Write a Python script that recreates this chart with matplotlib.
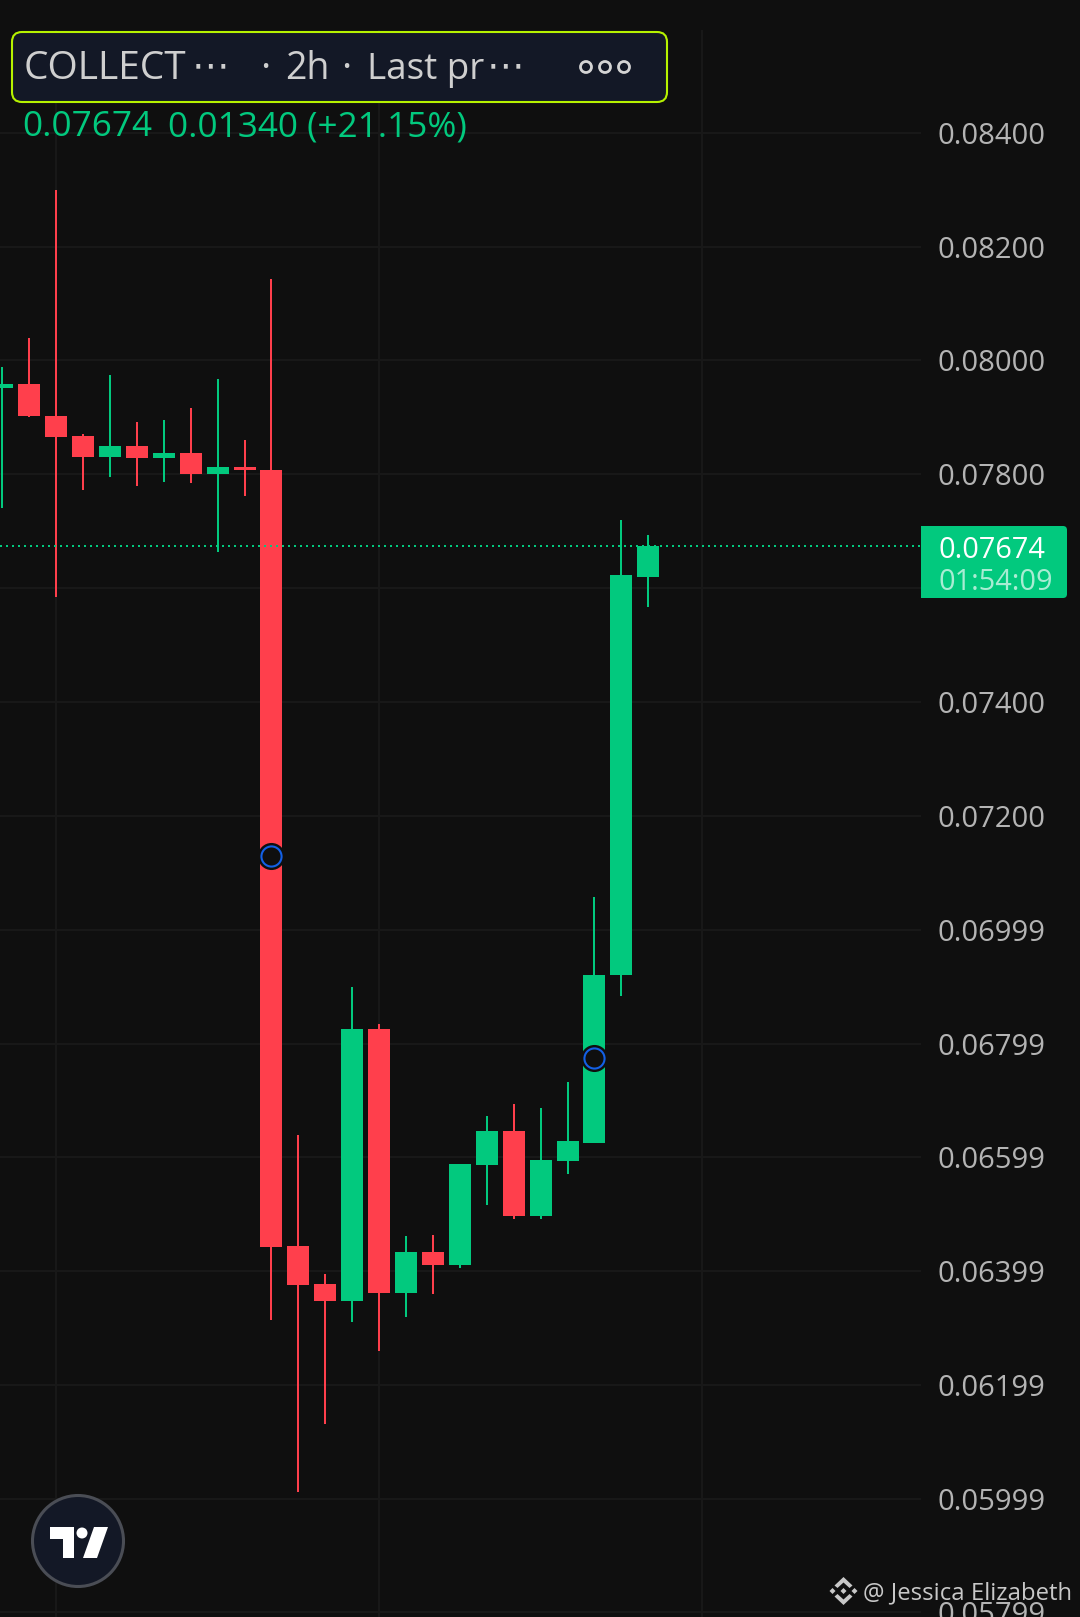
import matplotlib
matplotlib.use("Agg")
import matplotlib.pyplot as plt
from matplotlib.patches import Circle, FancyBboxPatch, Polygon
import numpy as np

plt.rcParams['font.family'] = ['Open Sans', 'DejaVu Sans']

# candles, oldest first
opens = [0.07951, 0.07958, 0.07903, 0.07868, 0.07831, 0.07849, 0.07829, 0.07838, 0.07801, 0.07812,
         0.07808, 0.06444, 0.06377, 0.06347, 0.06824, 0.06361, 0.06433, 0.06409, 0.06586, 0.06646,
         0.06496, 0.06593, 0.06625, 0.06919, 0.07620]
closes = [0.07958, 0.07902, 0.07866, 0.07831, 0.07849, 0.07829, 0.07838, 0.07801, 0.07812, 0.07807,
          0.06442, 0.06375, 0.06347, 0.06824, 0.06361, 0.06433, 0.06409, 0.06588, 0.06646, 0.06496,
          0.06595, 0.06627, 0.06920, 0.07622, 0.07674]
highs = [0.07989, 0.08039, 0.08299, 0.07870, 0.07975, 0.07891, 0.07896, 0.07916, 0.07968, 0.07861,
         0.08144, 0.06639, 0.06394, 0.06899, 0.06834, 0.06460, 0.06463, 0.06588, 0.06672, 0.06692,
         0.06685, 0.06732, 0.07057, 0.07719, 0.07694]
lows = [0.07740, 0.07900, 0.07585, 0.07773, 0.07796, 0.07780, 0.07787, 0.07784, 0.07664, 0.07761,
        0.06314, 0.06011, 0.06131, 0.06310, 0.06259, 0.06319, 0.06358, 0.06405, 0.06516, 0.06491,
        0.06491, 0.06570, 0.06625, 0.06882, 0.07567]

# blue rings sitting on two of the candles
marker_idx = [10, 22]
marker_price = [0.07128, 0.06773]

last_price = 0.07674

price_ticks = [0.08400, 0.08200, 0.08000, 0.07800, 0.07600, 0.07400, 0.07200, 0.06999,
               0.06799, 0.06599, 0.06399, 0.06199, 0.05999, 0.05799]
# 0.07600 sits behind the price tag
price_labels = ['0.08400', '0.08200', '0.08000', '0.07800', '', '0.07400', '0.07200', '0.06999',
                '0.06799', '0.06599', '0.06399', '0.06199', '0.05999', '0.05799']
time_ticks = [2, 14, 26]

BG = '#0f0f0f'
GRID = '#181818'
UP = '#02c97e'
DOWN = '#ff3f4c'
W, H = 1080, 1617

fig = plt.figure(figsize=(W / 100, H / 100), dpi=100, facecolor=BG)
ax = fig.add_axes([0, 0, 921 / W, (H - 30) / H], facecolor=BG)

idx = np.arange(len(opens))
opens = np.array(opens)
closes = np.array(closes)
colors = [UP if c >= o else DOWN for o, c in zip(opens, closes)]

ax.vlines(idx, lows, highs, colors=colors, linewidth=1.44, zorder=3)
ax.bar(idx, np.abs(closes - opens), bottom=np.minimum(opens, closes), width=0.817,
       color=colors, linewidth=0, zorder=4)
ax.axhline(last_price, color=UP, linewidth=1.44, linestyle=(0, (1, 2)), zorder=5)

# dark halo then the blue ring
ax.plot(marker_idx, marker_price, 'o', ms=19.5, mfc=BG, mec=BG, mew=0, zorder=6)
ax.plot(marker_idx, marker_price, 'o', ms=14.5, mfc=BG, mec='#1360e6', mew=1.5, zorder=7)

ax.set_xlim(-2.3 / 26.917, 918.7 / 26.917)
ax.set_ylim(0.05791, 0.08581)
ax.set_xticks(time_ticks)
ax.set_xticklabels([])
ax.set_yticks(price_ticks)
ax.set_yticklabels(price_labels)
ax.yaxis.tick_right()
ax.tick_params(axis='x', length=0)
ax.tick_params(axis='y', length=0, pad=12, labelsize=21, labelcolor='#b4b4b4')
ax.grid(True, color=GRID, linewidth=1.44, zorder=1)
ax.set_axisbelow(True)
for s in ax.spines.values():
    s.set_visible(False)

# overlay in pixel coordinates for the app chrome
ui = fig.add_axes([0, 0, 1, 1], facecolor='none')
ui.set_xlim(0, W)
ui.set_ylim(H, 0)
ui.axis('off')

ui.add_patch(FancyBboxPatch((12, 32), 655, 70, boxstyle='round,pad=0,rounding_size=10',
                            fc='#131826', ec='#b6f200', lw=1.5))
head = '#cfcfcf'
ui.text(24, 79, 'COLLECT', fontsize=28, color=head, va='baseline')
ui.text(192, 77, '⋯', fontsize=27, color=head, va='baseline', family='DejaVu Sans')
ui.text(260, 79, '·', fontsize=28, color=head, va='baseline')
ui.text(285, 79, '2h', fontsize=27, color=head, va='baseline')
ui.text(341, 79, '·', fontsize=28, color=head, va='baseline')
ui.text(367, 79, 'Last pr', fontsize=26.5, color=head, va='baseline')
ui.text(487, 77, '⋯', fontsize=27, color=head, va='baseline', family='DejaVu Sans')
for x in [586, 605, 624]:
    ui.add_patch(Circle((x, 67), 5.5, fc='none', ec='#d4d4d4', lw=2))

ui.text(22, 127, '0.07674', fontsize=25.3, color=UP, va='center')
ui.text(168, 127, '0.01340 (+21.15%)', fontsize=25.3, color=UP, va='center')

# price tag
ui.add_patch(FancyBboxPatch((921, 526), 146, 72, boxstyle='round,pad=0,rounding_size=4',
                            fc=UP, ec='none'))
ui.add_patch(plt.Rectangle((921, 526), 8, 72, fc=UP, ec='none'))
ui.text(939, 550, '0.07674', fontsize=20.8, color='#ffffff', va='center')
ui.text(939, 582, '01:54:09', fontsize=20.8, color='#a9ecd3', va='center')

# TradingView badge
ui.add_patch(Circle((78, 1541), 45.5, fc='#131826', ec='#4a4d55', lw=2.2))
ui.add_patch(Polygon([(50, 1527), (74, 1527), (74, 1558), (63, 1558), (63, 1539), (50, 1539)],
                     fc='#ffffff', ec='none'))
ui.add_patch(Circle((82, 1533), 5.5, fc='#ffffff', ec='none'))
ui.add_patch(Polygon([(94, 1527), (108, 1527), (97, 1558), (83, 1558)], fc='#ffffff', ec='none'))

# watermark
wm = '#c8c8c8'
cx, cy = 843.5, 1591
chev = np.array([(0, -14), (9, -5.5), (6, -3), (0, -8.5), (-6, -3), (-9, -5.5)])
ui.add_patch(Polygon(chev + (cx, cy), fc=wm, ec='none'))
ui.add_patch(Polygon(chev * (1, -1) + (cx, cy), fc=wm, ec='none'))
dia = np.array([(0, -3), (3, 0), (0, 3), (-3, 0)])
for dx in [-11, 0, 11]:
    ui.add_patch(Polygon(dia + (cx + dx, cy), fc=wm, ec='none'))
ui.text(863, 1593, '@ Jessica Elizabeth', fontsize=17.2, color=wm, va='center')

fig.savefig('out.png', dpi=100, facecolor=BG)
plt.close(fig)
